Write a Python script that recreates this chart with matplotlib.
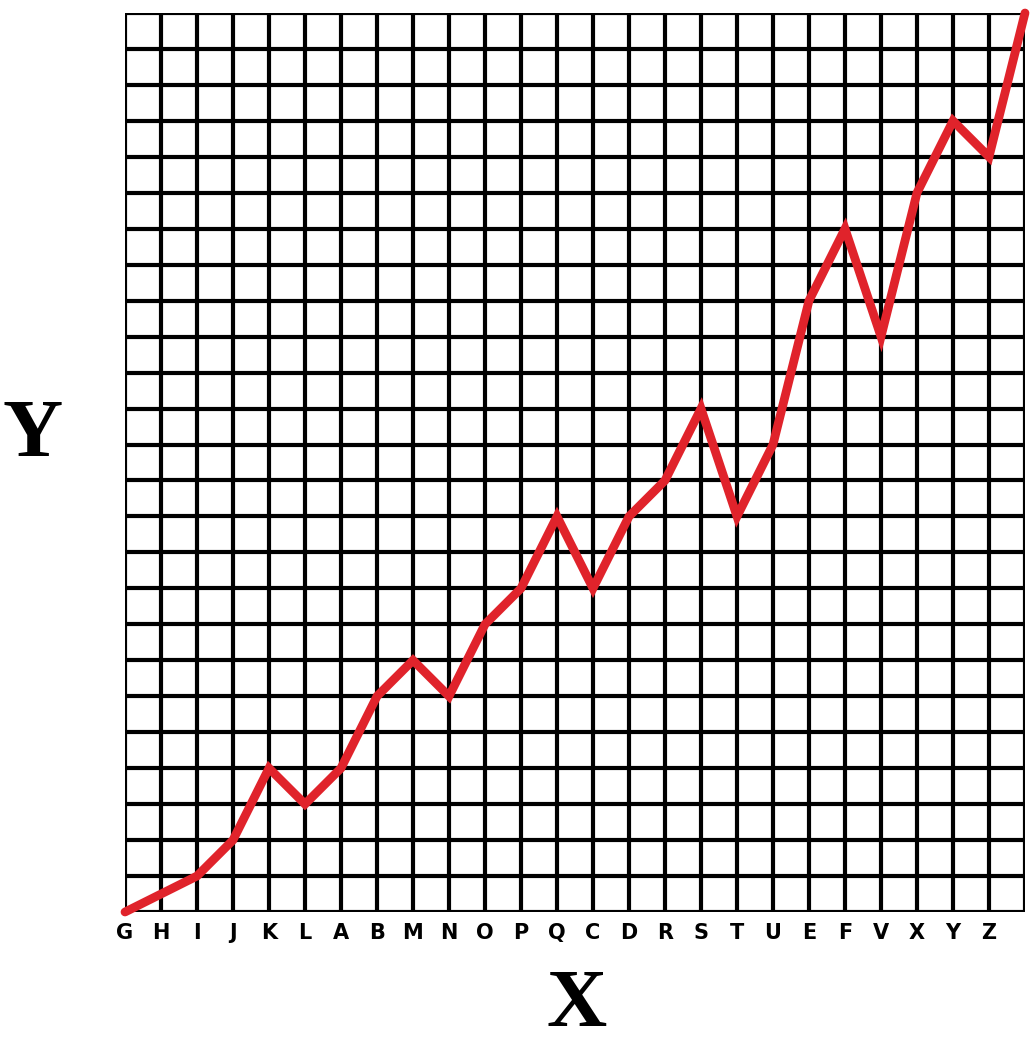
import numpy as np
import matplotlib
matplotlib.use("Agg")
import matplotlib.pyplot as plt

# categories on the x axis (one per vertical grid line)
labels = ['G', 'H', 'I', 'J', 'K', 'L', 'A', 'B', 'M', 'N', 'O', 'P', 'Q',
          'C', 'D', 'R', 'S', 'T', 'U', 'E', 'F', 'V', 'X', 'Y', 'Z']
# line values (last point sits at the right edge, no label)
values = [0, 0.5, 1, 2, 4, 3, 4, 6, 7, 6, 8, 9, 11, 9, 11, 12, 14, 11,
          13, 17, 19, 16, 20, 22, 21, 25]

n_cols = 25
n_rows = 25

fig = plt.figure(figsize=(10.36, 10.47), dpi=100)
ax = fig.add_axes([125 / 1036, 1 - 912 / 1047, 900 / 1036, 899 / 1047])

x = np.arange(len(values))
ax.set_xlim(0, n_cols)
ax.set_ylim(0, n_rows)

# grid
for i in range(n_cols + 1):
    ax.axvline(i, color='black', lw=3, zorder=1)
for j in range(n_rows + 1):
    ax.axhline(j, color='black', lw=3, zorder=1)

ax.plot(x, values, color='#e0232b', lw=6.3, solid_capstyle='round',
        solid_joinstyle='miter', zorder=3, clip_on=False)

for s in ax.spines.values():
    s.set_visible(False)

ax.set_xticks(np.arange(len(labels)))
ax.set_xticklabels(labels, fontsize=15, fontweight='heavy',
                   family='DejaVu Sans')
ax.tick_params(axis='x', length=0, pad=8)
ax.set_yticks([])

fig.text(33 / 1036, 1 - 436 / 1047, 'Y', fontsize=60, fontweight='bold',
         family='Liberation Serif', ha='center', va='center')
fig.text(577 / 1036, 1 - 1006 / 1047, 'X', fontsize=60, fontweight='bold',
         family='Liberation Serif', ha='center', va='center')

fig.savefig('out.png', dpi=100, facecolor='white')
